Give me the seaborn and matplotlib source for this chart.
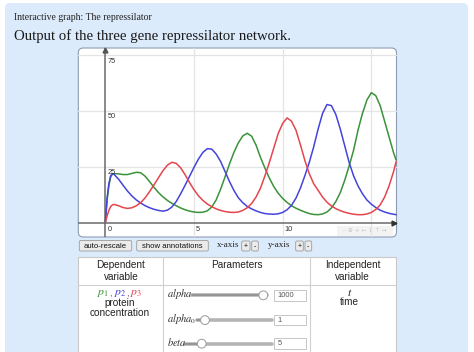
import matplotlib
matplotlib.use("Agg")
import matplotlib.pyplot as plt
import seaborn as sns
import pandas as pd
from matplotlib.patches import FancyBboxPatch, Rectangle, Circle

# ---------------- data ----------------
t = [0, 0.1, 0.2, 0.3, 0.4, 0.5, 0.75, 1.0, 1.25, 1.5, 1.75, 2.0, 2.25, 2.5, 2.75,
     3.0, 3.25, 3.5, 3.75, 4.0, 4.25, 4.5, 4.75, 5.0, 5.25, 5.5, 5.75, 6.0, 6.25,
     6.5, 6.75, 7.0, 7.25, 7.5, 7.75, 8.0, 8.25, 8.5, 8.75, 9.0, 9.25, 9.5, 9.75,
     10.0, 10.25, 10.5, 10.75, 11.0, 11.25, 11.5, 11.75, 12.0, 12.25, 12.5, 12.75,
     13.0, 13.25, 13.5, 13.75, 14.0, 14.25, 14.5, 14.75, 15.0, 15.25, 15.5, 15.75,
     16.0, 16.25, 16.4]

p1_green = [0, 10, 16.5, 20.5, 21.8, 22.0, 21.9, 21.6, 21.6, 22.1, 22.6, 22.4, 20.8,
            18.4, 15.8, 13.5, 11.6, 10.0, 8.7, 7.6, 6.6, 5.8, 5.2, 4.8, 4.6, 4.7, 5.3,
            7.0, 10.2, 15.0, 20.5, 26.3, 31.5, 35.8, 38.9, 40.1, 38.8, 34.8, 29.3, 24.5,
            20.0, 16.2, 13.2, 10.9, 9.1, 7.6, 6.5, 5.6, 4.8, 4.1, 3.7, 3.6, 3.9, 4.8,
            6.6, 9.5, 13.5, 19.0, 25.5, 32.5, 41.5, 49.0, 55.0, 58.3, 57.0, 52.5, 45.5,
            38.5, 31.5, 28.1]

p2_blue = [0, 11, 17.5, 21.0, 22.0, 21.6, 19.5, 16.8, 14.2, 12.0, 10.2, 8.8, 7.6, 6.7,
           6.0, 5.5, 5.2, 5.6, 7.0, 9.5, 13.0, 16.8, 20.8, 24.8, 28.5, 31.5, 33.2, 33.0,
           30.8, 27.5, 23.0, 18.5, 14.5, 11.2, 9.0, 7.3, 6.2, 5.3, 4.6, 4.1, 3.9, 3.8,
           4.0, 4.6, 5.8, 7.8, 11.0, 15.5, 21.0, 27.0, 34.0, 42.0, 49.0, 53.0, 52.5,
           48.5, 42.0, 34.5, 27.0, 21.0, 16.5, 13.0, 10.2, 8.3, 6.8, 5.6, 4.8, 4.2, 3.8,
           3.6]

p3_red = [0, 3.0, 5.5, 7.2, 8.0, 8.2, 7.6, 6.8, 6.4, 6.7, 7.6, 9.0, 11.2, 14.0, 17.0,
          20.2, 23.3, 25.8, 27.1, 26.6, 24.6, 21.5, 18.0, 14.8, 12.1, 10.0, 8.4, 7.2,
          6.2, 5.5, 5.0, 4.7, 4.6, 4.8, 5.5, 6.7, 8.6, 11.5, 15.5, 21.0, 27.0, 33.5,
          40.0, 44.5, 47.0, 45.5, 41.5, 35.0, 28.0, 22.0, 17.5, 14.5, 11.5, 9.2, 7.5,
          6.3, 5.4, 4.7, 4.2, 3.8, 3.6, 3.6, 3.9, 4.6, 5.9, 8.0, 11.5, 16.5, 22.8, 27.4]

series_names = ["p1", "p2", "p3"]
series_labels = [r"$p_1$", r"$p_2$", r"$p_3$"]
series_colors = {"p1": "#3a923a", "p2": "#4444dd", "p3": "#e5454c"}
x_ticks = [0, 5, 10]
y_ticks = [25, 50, 75]
x_grid = [5, 10, 15]

df = pd.concat([
    pd.DataFrame({"t": t, "value": p1_green, "protein": "p1"}),
    pd.DataFrame({"t": t, "value": p2_blue, "protein": "p2"}),
    pd.DataFrame({"t": t, "value": p3_red, "protein": "p3"}),
])

# ---------------- figure ----------------
sns.set_style("white")
plt.rcParams["font.family"] = ["Liberation Sans", "DejaVu Sans"]
plt.rcParams["mathtext.fontset"] = "stix"

W, H = 474, 352
fig = plt.figure(figsize=(W / 100, H / 100), dpi=100)
fig.patch.set_facecolor("white")

page = fig.add_axes([0, 0, 1, 1])
page.set_xlim(0, W)
page.set_ylim(H, 0)
page.axis("off")

# light-blue container
page.add_patch(FancyBboxPatch((5, 3), 463, 380, boxstyle="round,pad=0,rounding_size=5",
                              fc="#dcebfb", ec="none"))
serif = ["Liberation Serif", "DejaVu Serif"]
page.text(14, 17.5, "Interactive graph: The repressilator", family=serif, fontsize=7.0,
          color="#222", va="center", ha="left")
page.text(14, 36.5, "Output of the three gene repressilator network.", family=serif,
          fontsize=10.6, color="#1a1a1a", va="center", ha="left")

# plot box
bx0, bx1, by0, by1 = 78.3, 396.5, 48.0, 237.0
page.add_patch(FancyBboxPatch((bx0, by0), bx1 - bx0, by1 - by0,
                              boxstyle="round,pad=0,rounding_size=5",
                              fc="white", ec="#8d9cb3", lw=0.8))

ax = fig.add_axes([bx0 / W, 1 - by1 / H, (bx1 - bx0) / W, (by1 - by0) / H])
ax.set_facecolor("none")
for s in ax.spines.values():
    s.set_visible(False)
ax.set_xticks([])
ax.set_yticks([])
ax.set_xlim(-1.523, 16.42)
ax.set_ylim(-6.41, 78.34)

for gx in x_grid:
    ax.axvline(gx, color="#e4e4e4", lw=0.9, zorder=0.5)
for gy in y_ticks:
    ax.axhline(gy, color="#e4e4e4", lw=0.9, zorder=0.5)
ax.axhline(0, color="#6a6a6a", lw=1.1, zorder=1)
ax.axvline(0, color="#6a6a6a", lw=1.1, zorder=1)
ax.plot([16.3], [0], marker=">", ms=3.5, color="#333", clip_on=False, zorder=3)
ax.plot([0], [77.6], marker="^", ms=3.5, color="#555", clip_on=False, zorder=3)

sns.lineplot(data=df, x="t", y="value", hue="protein", hue_order=series_names,
             palette=series_colors, legend=False, ax=ax, lw=1.1, estimator=None,
             sort=False, zorder=2)
ax.set_xlabel("")
ax.set_ylabel("")

for v in y_ticks:
    ax.annotate(str(v), (0, v), xytext=(1.6, -1.6), textcoords="offset points",
                ha="left", va="top", fontsize=5.3, color="#333")
for v in x_ticks:
    ax.annotate(str(v), (v, 0), xytext=(1.6, -2.4), textcoords="offset points",
                ha="left", va="top", fontsize=5.3, color="#333")

# faint navigation controls
page.add_patch(Rectangle((337, 226), 56, 9.5, fc="#f3f3f3", ec="none"))
page.text(365, 230.8, "– ⊕ + ← ↕ ↑ →", fontsize=4.2, color="#c6c6c6",
          ha="center", va="center", family=["DejaVu Sans"])


# ---------------- buttons row ----------------
def button(x0, x1, y0, y1, label, fs=5.6):
    page.add_patch(FancyBboxPatch((x0, y0), x1 - x0, y1 - y0,
                                  boxstyle="round,pad=0,rounding_size=1.5",
                                  fc="#ebebeb", ec="#9a9a9a", lw=0.6))
    page.text((x0 + x1) / 2, (y0 + y1) / 2 + 0.3, label, fontsize=fs, color="#111",
              ha="center", va="center")


button(79.3, 131.7, 240.5, 251, "auto-rescale")
button(136.7, 208.3, 240.5, 251, "show annotations")
page.text(216.5, 245.3, "x-axis", family=serif, fontsize=6.6, color="#222",
          ha="left", va="center")
button(241.7, 250, 241, 251, "+", fs=5)
button(251.7, 258.3, 241, 251, "-", fs=5)
page.text(268.3, 245.3, "y-axis", family=serif, fontsize=6.6, color="#222",
          ha="left", va="center")
button(295.7, 303.3, 241, 251, "+", fs=5)
button(305, 311.7, 241, 251, "-", fs=5)

# ---------------- table ----------------
tx0, tx1, ty0 = 78.3, 395.7, 256.7
page.add_patch(Rectangle((tx0, ty0), tx1 - tx0, 120, fc="white", ec="#c9c9c9", lw=0.8))
for cx in (163.3, 310.0):
    page.plot([cx, cx], [ty0, H + 5], color="#d0d0d0", lw=0.8)
page.plot([tx0, tx1], [285, 285], color="#d0d0d0", lw=0.8)

hdr = dict(fontsize=7.2, color="#222", ha="center", va="center")
page.text(121, 265, "Dependent", **hdr)
page.text(121, 276.7, "variable", **hdr)
page.text(236.7, 265, "Parameters", **hdr)
page.text(352.7, 265, "Independent", **hdr)
page.text(352.7, 276.7, "variable", **hdr)

# coloured p1 , p2 , p3 laid out left to right without overlap
renderer = fig.canvas.get_renderer()
xcur = 97.5
for i, (name, lab) in enumerate(zip(series_names, series_labels)):
    txt = page.text(xcur, 293, lab, fontsize=8.5, color=series_colors[name],
                    ha="left", va="center")
    bb = txt.get_window_extent(renderer=renderer)
    xcur += bb.width - 0.2
    if i < 2:
        sep = page.text(xcur, 293, ",", fontsize=6.5, color="#666", ha="left",
                        va="center")
        bb2 = sep.get_window_extent(renderer=renderer)
        xcur += bb2.width + 1.8
page.text(120, 302.8, "protein", **hdr)
page.text(120, 313.5, "concentration", **hdr)

page.text(349.3, 292.5, r"$t$", fontsize=8.5, color="#222", ha="center", va="center")
page.text(349.3, 302.3, "time", **hdr)


def slider(label, ly, x0, x1, knob, value):
    page.text(166.7, ly, label, fontsize=7.6, color="#333", ha="left", va="center")
    page.plot([x0, x1], [ly + 1.5, ly + 1.5], color="#b5b5b5", lw=2.6,
              solid_capstyle="round")
    page.plot([x0, knob], [ly + 1.5, ly + 1.5], color="#8f8f8f", lw=1.2,
              solid_capstyle="round")
    page.add_patch(Circle((knob, ly + 1.5), 4.4, fc="white", ec="#9a9a9a", lw=0.7,
                          zorder=5))
    page.add_patch(Rectangle((274, ly - 3.8), 32, 10.6, fc="white", ec="#bdbdbd",
                             lw=0.6))
    page.text(277.5, ly + 1.4, value, fontsize=5.4, color="#555", ha="left",
              va="center")


slider(r"$alpha$", 293.8, 191.7, 266.7, 263.3, "1000")
slider(r"$alpha_0$", 318.6, 196.7, 271.7, 205.0, "1")
slider(r"$beta$", 342.2, 185.0, 271.7, 201.7, "5")

fig.savefig("out.png", dpi=100, facecolor=fig.get_facecolor())
